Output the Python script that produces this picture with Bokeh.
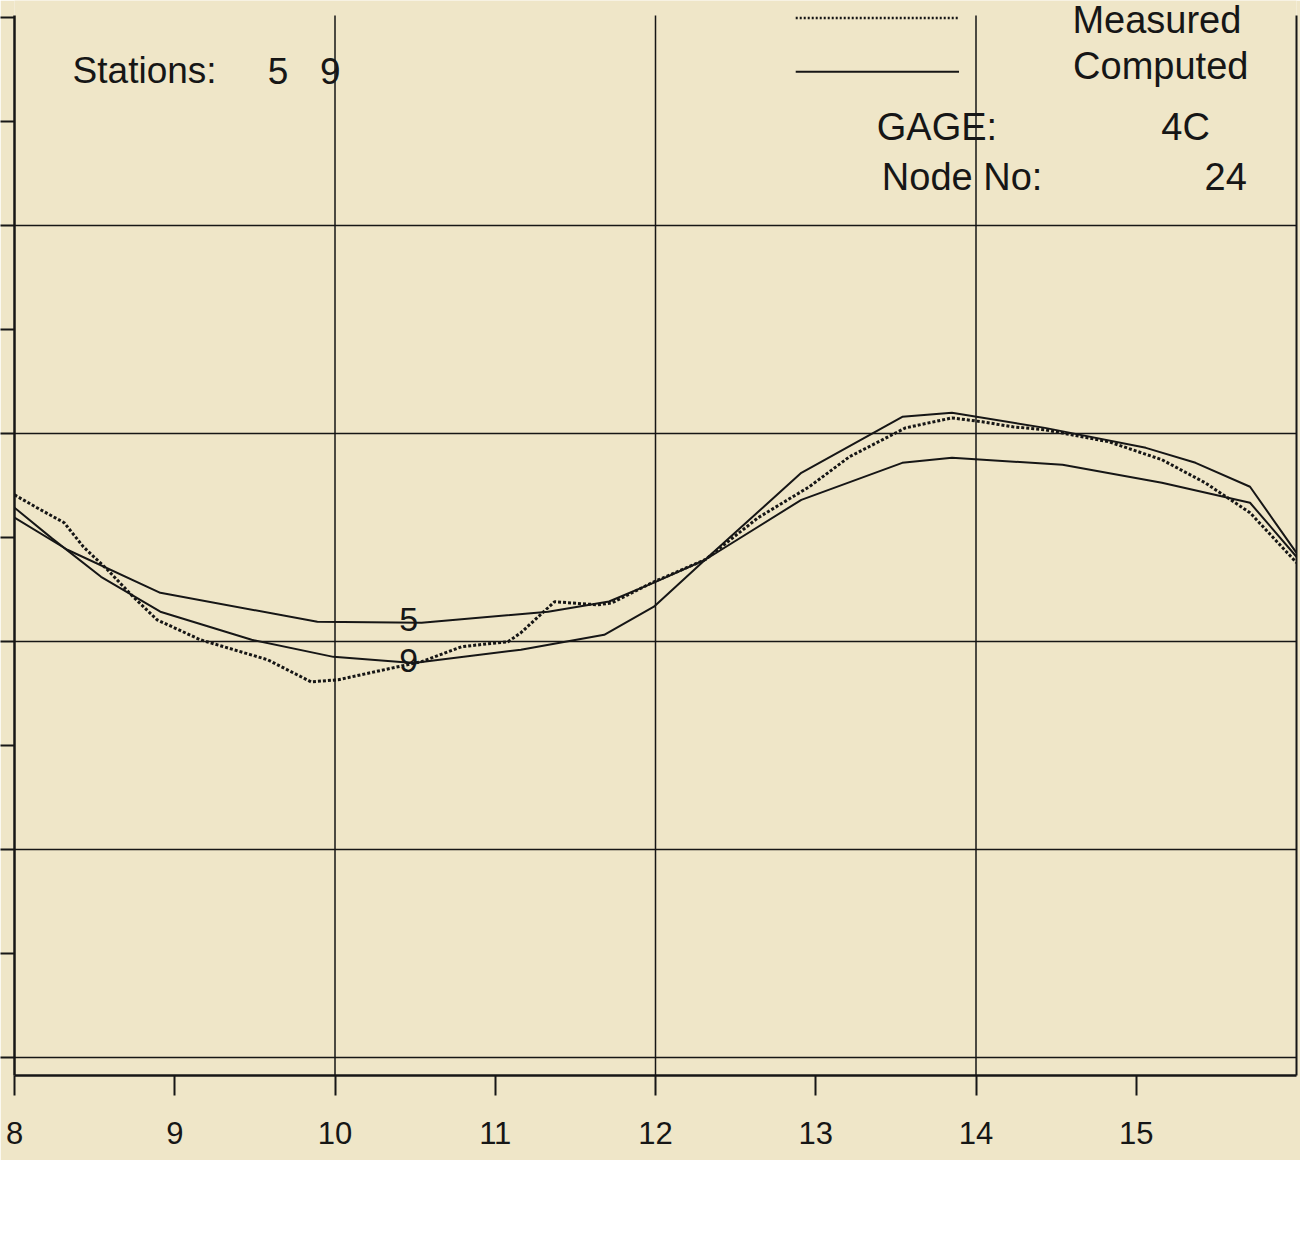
from bokeh.plotting import figure
from bokeh.models import FixedTicker, LinearAxis, Range1d
from bokeh.core.properties import value
from bokeh.embed import file_html
from bokeh.resources import INLINE

# ---------------- data ----------------
meas_hours = [8.0, 8.14, 8.31, 8.43, 8.58, 8.74, 8.89, 9.16, 9.58, 9.85, 10.02,
              10.54, 10.79, 11.08, 11.16, 11.37, 11.64, 11.73, 11.99, 12.31,
              12.64, 12.96, 13.21, 13.56, 13.85, 14.04, 14.23, 14.43, 14.83,
              15.16, 15.43, 15.71, 16.0]
measured = [0.705, 0.643, 0.571, 0.455, 0.345, 0.215, 0.104, 0.008, -0.088,
            -0.194, -0.184, -0.097, -0.025, -0.001, 0.042, 0.191, 0.176, 0.186,
            0.287, 0.393, 0.595, 0.744, 0.888, 1.027, 1.075, 1.056, 1.032,
            1.018, 0.960, 0.874, 0.763, 0.619, 0.379]

st9_hours = [8.0, 8.23, 8.54, 8.91, 9.48, 9.99, 10.49, 11.16, 11.68, 11.99,
             12.33, 12.91, 13.54, 13.85, 14.43, 15.06, 15.37, 15.71, 16.0]
st9_computed = [0.643, 0.498, 0.311, 0.143, 0.008, -0.074, -0.103, -0.040,
                0.032, 0.167, 0.407, 0.811, 1.080, 1.100, 1.027, 0.931,
                0.859, 0.744, 0.426]

st5_hours = [8.0, 8.33, 8.91, 9.89, 10.54, 11.33, 11.71, 11.99, 12.31, 12.91,
             13.54, 13.85, 14.54, 15.16, 15.71, 16.0]
st5_computed = [0.595, 0.441, 0.234, 0.095, 0.090, 0.143, 0.192, 0.283, 0.393,
                0.681, 0.859, 0.883, 0.850, 0.763, 0.667, 0.407]

x_ticks = [8, 9, 10, 11, 12, 13, 14, 15]
x_tick_labels = ["8", "9", "10", "11", "12", "13", "14", "15"]
y_ticks = [-2.0, -1.5, -1.0, -0.5, 0.0, 0.5, 1.0, 1.5, 2.0, 2.5, 3.0]
x_grid = [10, 12, 14]
y_grid = [-2, -1, 0, 1, 2]

station_names = ["5", "9"]
legend_names = ["Measured", "Computed"]
gage_name = "4C"
node_no = "24"

# ---------------- layout / style ----------------
BG = "#efe6c8"
INK = "#161616"
FONT = "Liberation Sans"
Y_LO, Y_TOP = -2.087, 3.01       # drawn extent of the chart box
Y_VIEW_TOP = 3.082               # view extends a bit above, for the header text

p = figure(width=1300, height=1160,
           x_range=Range1d(8, 16), y_range=Range1d(Y_LO, Y_VIEW_TOP),
           output_backend="svg", toolbar_location=None,
           min_border_left=14, min_border_right=4,
           min_border_top=0, min_border_bottom=85,
           background_fill_color=BG, border_fill_color=BG,
           outline_line_color=None)

# x axis
p.xaxis.ticker = FixedTicker(ticks=x_ticks)
p.xaxis.major_label_overrides = {t: l for t, l in zip(x_ticks, x_tick_labels)}
p.xaxis.major_tick_out = 20
p.xaxis.major_tick_in = 0
p.xaxis.minor_tick_line_color = None
p.xaxis.axis_line_width = 2.5
p.xaxis.axis_line_color = INK
p.xaxis.major_tick_line_width = 2
p.xaxis.major_tick_line_color = INK
p.xaxis.major_label_text_font = FONT
p.xaxis.major_label_text_font_size = "31px"
p.xaxis.major_label_text_color = INK
p.xaxis.major_label_standoff = 26

# y axis (labels are cut off in the reference)
p.yaxis.ticker = FixedTicker(ticks=y_ticks)
p.yaxis.bounds = (Y_LO, Y_TOP)
p.yaxis.major_label_overrides = {t: "" for t in y_ticks}
p.yaxis.major_label_text_font_size = "0px"
p.yaxis.major_label_standoff = 0
p.yaxis.major_tick_out = 14
p.yaxis.major_tick_in = 0
p.yaxis.minor_tick_line_color = None
p.yaxis.axis_line_width = 2.5
p.yaxis.axis_line_color = INK
p.yaxis.major_tick_line_width = 2
p.yaxis.major_tick_line_color = INK

# right border
right = LinearAxis(ticker=FixedTicker(ticks=[]), bounds=(Y_LO, Y_TOP),
                   major_tick_out=0, major_tick_in=0,
                   minor_tick_line_color=None, major_label_text_font_size="0px",
                   major_label_standoff=0, axis_line_width=2, axis_line_color=INK)
p.add_layout(right, "right")

# grids: horizontal via the grid, vertical lines drawn to the box top only
p.xgrid.visible = False
p.ygrid.ticker = FixedTicker(ticks=y_grid)
p.ygrid.grid_line_color = INK
p.ygrid.grid_line_width = 1.5
p.segment(x0=x_grid, y0=[Y_LO] * len(x_grid), x1=x_grid, y1=[Y_TOP] * len(x_grid),
          line_color=INK, line_width=1.5)

# series
p.line(meas_hours, measured, line_color=INK, line_width=3, line_dash="3 2")
p.line(st9_hours, st9_computed, line_color=INK, line_width=2)
p.line(st5_hours, st5_computed, line_color=INK, line_width=2)

# station labels on the curves
p.text(x=[10.46, 10.46], y=[0.104, -0.093], text=station_names,
       text_font=value(FONT), text_font_size="34px", text_color=INK,
       text_align="center", text_baseline="middle")

# legend lines
p.line([12.875, 13.894], [2.998, 2.998], line_color=INK, line_width=2.5, line_dash="2 2")
p.line([12.875, 13.894], [2.739, 2.739], line_color=INK, line_width=2)

# legend / header texts
p.text(x=[15.656, 15.70], y=[2.99, 2.765], text=legend_names,
       text_font=value(FONT), text_font_size="38px", text_color=INK,
       text_align="right", text_baseline="alphabetic")
p.text(x=[8.3625], y=[2.745], text=["Stations:"],
       text_font=value(FONT), text_font_size="37px", text_color=INK,
       text_align="left", text_baseline="alphabetic")
p.text(x=[9.581, 9.906], y=[2.745, 2.745], text=station_names,
       text_font=value(FONT), text_font_size="37px", text_color=INK,
       text_align="left", text_baseline="alphabetic")
p.text(x=[13.381, 13.4125], y=[2.472, 2.235], text=["GAGE:", "Node No:"],
       text_font=value(FONT), text_font_size="38px", text_color=INK,
       text_align="left", text_baseline="alphabetic")
p.text(x=[15.156], y=[2.472], text=[gage_name],
       text_font=value(FONT), text_font_size="38px", text_color=INK,
       text_align="left", text_baseline="alphabetic")
p.text(x=[15.69], y=[2.235], text=[node_no],
       text_font=value(FONT), text_font_size="38px", text_color=INK,
       text_align="right", text_baseline="alphabetic")

open("out.html", "w").write(file_html(p, INLINE))
